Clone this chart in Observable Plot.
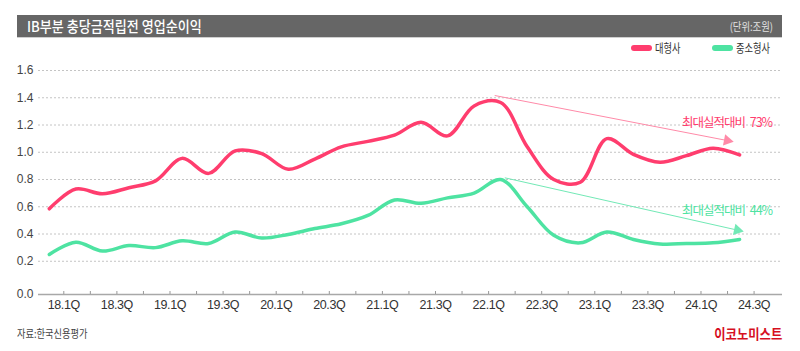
<!DOCTYPE html>
<html><head><meta charset="utf-8">
<script src="https://cdn.jsdelivr.net/npm/d3@7"></script>
<script src="https://cdn.jsdelivr.net/npm/@observablehq/plot@0.6"></script>
<style>
body{margin:0;background:#fff;font-family:"Noto Sans CJK KR","Noto Sans",sans-serif;}
#wrap{position:relative;width:800px;height:351px;overflow:hidden;background:#fff;}
#bar{position:absolute;left:17px;top:15px;width:765px;height:22px;background:#666;border-bottom:1px solid #cfcfcf;}
.abs{position:absolute;white-space:nowrap;}
.sx{display:inline-block;white-space:nowrap;}
#title{left:27px;top:15px;height:22px;line-height:22px;font-size:15px;font-weight:500;color:#fff;}
#title .sx{transform:scaleX(0.87);transform-origin:left center;}
#unit{right:27px;top:15px;height:22px;line-height:22px;font-size:11px;color:#e2e2e2;}
#unit .sx{transform:scaleX(0.85);transform-origin:right center;}
.sw{position:absolute;top:45px;width:21px;height:6px;border-radius:3px;}
.lg{top:40px;height:16px;line-height:16px;font-size:12px;color:#333;}
.lg .sx{transform:scaleX(0.77);transform-origin:left center;}
#src{left:17px;top:325px;height:16px;line-height:16px;font-size:11px;color:#444;}
#src .sx{transform:scaleX(0.84);transform-origin:left center;}
#logo{right:18px;top:324px;height:18px;line-height:18px;font-size:14px;font-weight:700;color:#d6101f;}
#logo .sx{transform:scaleX(0.88);transform-origin:right center;}
#chart{position:absolute;left:0;top:55px;}
</style>
</head><body>
<div id="wrap">
  <div id="bar"></div>
  <div id="title" class="abs"><span class="sx">IB부분 충당금적립전 영업순이익</span></div>
  <div id="unit" class="abs"><span class="sx">(단위:조원)</span></div>
  <div id="legend"></div>
  <div id="chart"></div>
  <div id="src" class="abs"><span class="sx">자료:한국신용평가</span></div>
  <div id="logo" class="abs"><span class="sx">이코노미스트</span></div>
</div>
<script>
// ---- data ----
const quarters = ["18.1Q","18.2Q","18.3Q","18.4Q","19.1Q","19.2Q","19.3Q","19.4Q",
  "20.1Q","20.2Q","20.3Q","20.4Q","21.1Q","21.2Q","21.3Q","21.4Q",
  "22.1Q","22.2Q","22.3Q","22.4Q","23.1Q","23.2Q","23.3Q","23.4Q",
  "24.1Q","24.2Q","24.3Q"];
const large = [0.585, 0.73, 0.695, 0.74, 0.79, 0.955, 0.845, 1.01, 0.99, 0.875, 0.95, 1.04, 1.08, 1.125,
  1.22, 1.12, 1.34, 1.365, 1.04, 0.80, 0.78, 1.10, 0.985, 0.927, 0.975, 1.03, 0.98];
const small = [0.25, 0.34, 0.275, 0.315, 0.30, 0.35, 0.33, 0.415, 0.37, 0.397, 0.44, 0.475, 0.536, 0.65,
  0.625, 0.665, 0.70, 0.80, 0.60, 0.39, 0.335, 0.415, 0.36, 0.327, 0.33, 0.335, 0.36];
const seriesNames = ["대형사", "중소형사"];
const seriesColors = ["#ff3d6e", "#4ee3a2"];
const arrowColors = ["#ff8aa8", "#72e9b6"];
const yTicks = [0.2, 0.4, 0.6, 0.8, 1.0, 1.2, 1.4, 1.6];
const annoText = ["최대실적대비 73%", "최대실적대비 44%"];
const annoX = [26.68, 26.68];
const annoY = [1.213, 0.567];
const arrowX1 = [16.23, 16.61];
const arrowY1 = [1.4165, 0.8125];
const arrowX2 = [24.99, 25.37];
const arrowY2 = [1.086, 0.4286];

// ---- legend ----
const legend = document.getElementById("legend");
const legendLeft = [631, 712];
seriesNames.forEach((n, k) => {
  const sw = document.createElement("div");
  sw.className = "sw"; sw.style.left = legendLeft[k] + "px"; sw.style.background = seriesColors[k];
  legend.appendChild(sw);
  const t = document.createElement("div");
  t.className = "abs lg"; t.style.left = (legendLeft[k] + 24) + "px";
  t.innerHTML = `<span class="sx">${n}</span>`;
  legend.appendChild(t);
});

// ---- chart ----
const W = 800, H = 265, ML = 38, MR = 18, MT = 15, MB = 32;
const xDomain = [-0.953, 27.07], yDomain = [0, 1.6];
const idx = quarters.map((q, i) => i);
const labelIdx = idx.filter(i => i % 2 === 0);
const rowsL = idx.map(i => ({i, v: large[i]}));
const rowsS = idx.map(i => ({i, v: small[i]}));
const arrows = arrowX1.map((x, k) => ({k, x1: x, y1: arrowY1[k], x2: arrowX2[k], y2: arrowY2[k]}));

// rotation of the arrow heads, from the same linear mapping used by the plot
const xs = d3.scaleLinear(xDomain, [ML, W - MR]);
const ys = d3.scaleLinear(yDomain, [H - MB, MT]);
arrows.forEach(a => {
  a.rot = 90 + Math.atan2(ys(a.y2) - ys(a.y1), xs(a.x2) - xs(a.x1)) * 180 / Math.PI;
});

const kor = "'Noto Sans CJK KR','Noto Sans',sans-serif";
const narrow = "'Liberation Sans Narrow','Liberation Sans',sans-serif";
const chart = Plot.plot({
  width: W, height: H,
  marginLeft: ML, marginRight: MR, marginTop: MT, marginBottom: MB,
  x: {type: "linear", domain: xDomain},
  y: {type: "linear", domain: yDomain},
  style: {fontFamily: kor, background: "transparent", overflow: "visible"},
  marks: [
    Plot.gridY(yTicks, {stroke: "#c4c4c4", strokeOpacity: 1, strokeDasharray: "2,2"}),
    Plot.axisY(yTicks, {tickSize: 0, tickPadding: 5, tickFormat: d => d.toFixed(1), fontSize: 12,
      fontFamily: "'Liberation Sans',sans-serif", fill: "#444", label: null}),
    Plot.axisY([0], {tickSize: 0, tickPadding: 5, tickFormat: d => d.toFixed(1), fontSize: 12,
      fontFamily: "'Liberation Sans',sans-serif", fill: "#444", label: null, dy: 6}),
    Plot.ruleY([0], {dy: 6, stroke: "#a8a8a8", strokeWidth: 1.5}),
    Plot.axisX(idx, {tickSize: 3, dy: 3, stroke: "#999", tickFormat: () => "", label: null}),
    Plot.axisX(labelIdx, {tickSize: 0, tickPadding: 12, tickFormat: i => quarters[i], fontSize: 12.5,
      fontFamily: narrow, fill: "#333", label: null}),
    Plot.line(rowsL, {x: "i", y: "v", curve: "catmull-rom", stroke: seriesColors[0], strokeWidth: 3.5, dx: -14.5}),
    Plot.line(rowsS, {x: "i", y: "v", curve: "catmull-rom", stroke: seriesColors[1], strokeWidth: 3.5, dx: -14.5}),
    Plot.link(arrows.filter(a => a.k === 0), {x1: "x1", y1: "y1", x2: "x2", y2: "y2", stroke: arrowColors[0], strokeWidth: 1}),
    Plot.link(arrows.filter(a => a.k === 1), {x1: "x1", y1: "y1", x2: "x2", y2: "y2", stroke: arrowColors[1], strokeWidth: 1}),
    Plot.dot(arrows.filter(a => a.k === 0), {x: "x2", y: "y2", symbol: "triangle", r: 4.2, fill: arrowColors[0], stroke: "none", rotate: "rot"}),
    Plot.dot(arrows.filter(a => a.k === 1), {x: "x2", y: "y2", symbol: "triangle", r: 4.2, fill: arrowColors[1], stroke: "none", rotate: "rot"}),
    Plot.text([annoText[0]], {x: [annoX[0]], y: [annoY[0]], text: d => d, textAnchor: "end", fontSize: 12.5, fill: seriesColors[0], fontFamily: kor}),
    Plot.text([annoText[1]], {x: [annoX[1]], y: [annoY[1]], text: d => d, textAnchor: "end", fontSize: 12.5, fill: seriesColors[1], fontFamily: kor})
  ]
});
d3.select(chart).selectAll("text")
  .filter(function() { return this.textContent.includes("최대"); })
  .style("letter-spacing", "-1px")
  .style("word-spacing", "3px")
  .attr("xml:space", "preserve");
d3.select(chart).selectAll("text")
  .filter(function() { return /Q$/.test(this.textContent); })
  .style("letter-spacing", "-0.4px");
document.getElementById("chart").appendChild(chart);
</script>
</body></html>
